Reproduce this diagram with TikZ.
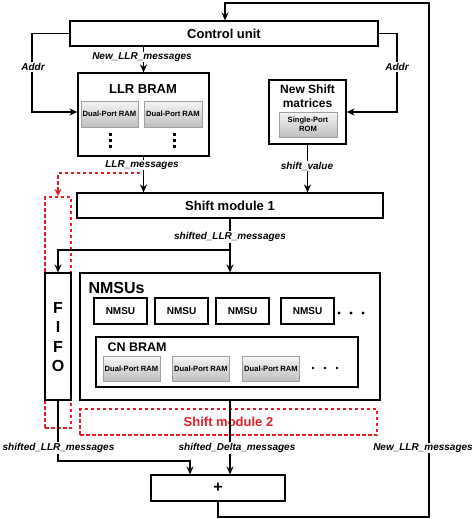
\documentclass[tikz,border=0pt]{standalone}
\usepackage{fontspec}
\setmainfont{Liberation Sans}
\usetikzlibrary{arrows.meta}
\definecolor{redd}{RGB}{230,30,40}
\begin{document}
\begin{tikzpicture}[x=1pt,y=-1pt,
  box/.style={draw=black,line width=1.1pt,fill=white,inner sep=0pt,font=\bfseries},
  gbox/.style={draw=gray!75,line width=0.8pt,top color=gray!8,bottom color=gray!50,inner sep=0pt,font=\bfseries\fontsize{7.6}{8.5}\selectfont,align=center},
  nbox/.style={box,minimum width=53pt,minimum height=26pt,font=\bfseries\fontsize{10}{12}\selectfont},
  lab/.style={font=\bfseries\itshape\fontsize{10}{12}\selectfont,fill=white,inner sep=1pt},
  conn/.style={line width=1.4pt,draw=black},
  arr/.style={conn,-{Stealth[length=8pt,width=7pt]}},
  reddash/.style={draw=redd,line width=1.2pt,dash pattern=on 3.5pt off 2.5pt},
  dot/.style={circle,fill=black,inner sep=0pt,minimum size=3pt}
]
\useasboundingbox (0,0) rectangle (474,519);

% boxes
\node[box,minimum width=308pt,minimum height=25pt,font=\bfseries\fontsize{13}{15}\selectfont] (cu) at (224,33.5) {Control unit};
\node[box,minimum width=131pt,minimum height=83pt] (llr) at (143.5,114.5) {};
\node[font=\bfseries\fontsize{13}{15}\selectfont] (llrt) at (143,89) {LLR BRAM};
\node[gbox,minimum width=57pt,minimum height=26pt] (dp1) at (109.5,114) {Dual-Port RAM};
\node[gbox,minimum width=58pt,minimum height=26pt] (dp2) at (173,114) {Dual-Port RAM};
\foreach \yy [count=\i] in {134,140,146}{
  \node[dot,rectangle,minimum size=3pt] (va\i) at (110,\yy) {};
  \node[dot,rectangle,minimum size=3pt] (vb\i) at (174,\yy) {};
}
\node[box,minimum width=77pt,minimum height=64pt] (nsm) at (307.5,112) {};
\node[font=\bfseries\fontsize{12}{14}\selectfont,align=center] (nsmt) at (307.5,96) {New Shift\\matrices};
\node[gbox,minimum width=58pt,minimum height=25pt] (rom) at (308,124.5) {Single-Port\\ROM};

\node[box,minimum width=306pt,minimum height=25pt,font=\bfseries\fontsize{13}{15}\selectfont] (sm1) at (230,205.5) {Shift module 1};

% red dashed FIFO outline (behind FIFO)
\node[reddash,minimum width=26pt,minimum height=231pt,inner sep=0pt] (rfifo) at (58,312.5) {};
\node[box,minimum width=26pt,minimum height=127pt] (fifo) at (58,336.5) {};
\foreach \ch/\yy [count=\i] in {F/308,I/327,F/347,O/366}{
  \node[font=\bfseries\fontsize{16}{18}\selectfont] (ff\i) at (58,\yy) {\ch};
}

\node[box,minimum width=300pt,minimum height=127pt] (nmsus) at (230,336.5) {};
\node[font=\bfseries\fontsize{16}{18}\selectfont,anchor=west] (nmsust) at (85,287.5) {NMSUs};
\node[nbox] (n1) at (120.5,311) {NMSU};
\node[nbox] (n2) at (181.5,311) {NMSU};
\node[nbox] (n3) at (242.5,311) {NMSU};
\node[nbox] (n4) at (307.5,311) {NMSU};
\foreach \xx [count=\i] in {339,351,363}{ \node[dot,minimum size=3.2pt] (hd\i) at (\xx,313) {}; }

\node[box,minimum width=262pt,minimum height=50pt] (cnb) at (227,362) {};
\node[font=\bfseries\fontsize{12.5}{14}\selectfont,anchor=west] (cnbt) at (104,347) {CN BRAM};
\node[gbox,minimum width=57pt,minimum height=25pt] (dp3) at (131.5,368.5) {Dual-Port RAM};
\node[gbox,minimum width=57pt,minimum height=25pt] (dp4) at (201,368.5) {Dual-Port RAM};
\node[gbox,minimum width=57pt,minimum height=25pt] (dp5) at (271,368.5) {Dual-Port RAM};
\foreach \xx [count=\i] in {313,325,337}{ \node[dot,minimum size=2.8pt] (cd\i) at (\xx,368) {}; }

\node[reddash,minimum width=297pt,minimum height=26pt,inner sep=0pt] (sm2) at (228.5,422) {};
\node[font=\bfseries\fontsize{13}{15}\selectfont,text=redd] (sm2t) at (228.5,422) {Shift module 2};

\node[box,minimum width=134pt,minimum height=26pt,font=\bfseries\fontsize{16}{18}\selectfont] (plus) at (218,488) {+};

% coordinates
\coordinate (al1) at (32,33.5);
\coordinate (al2) at (32,112);
\coordinate (ar1) at (397,33.5);
\coordinate (ar2) at (397,112);
\coordinate (br) at (230,250);
\coordinate (fb1) at (429,517);
\coordinate (fb2) at (429,3);
\coordinate (fb3) at (225,3);
\coordinate (fl) at (58,461);
\coordinate (fp) at (190,461);
\coordinate (rs) at (140,173);
\coordinate (rc) at (58,173);
\coordinate (re) at (58,196);

% connectors
\draw[arr] (cu.west) -- (al1) -- (al2) -- (al2 -| llr.west);
\draw[arr] (cu.east) -- (ar1) -- (ar2) -- (ar2 -| nsm.east);
\draw[arr] (llr.north |- cu.south) -- (llr.north);
\draw[arr] (llr.south) -- (llr.south |- sm1.north);
\draw[arr] (nsm.south) -- (nsm.south |- sm1.north);
\draw[conn] (sm1.south) -- (br);
\draw[arr] (br) -- (nmsus.north);
\draw[arr] (br) -| (fifo.north);
\draw[arr] (nmsus.south) -- (nmsus.south |- plus.north);
\draw[arr] (fifo.south) -- (fl) -- (fp) -- (fp |- plus.north);
\draw[arr] (plus.south) |- (fb1) -- (fb2) -- (fb3) -- (fb3 |- cu.north);
\draw[reddash,-{Stealth[length=7pt,width=7pt]}] (rs) -- (rc) -- (re);

% labels
\node[lab] (la1) at (33,67) {Addr};
\node[lab] (la2) at (397,67) {Addr};
\node[lab] (l1) at (142,57) {New\_LLR\_messages};
\node[lab] (l2) at (142,165) {LLR\_messages};
\node[lab] (l3) at (307,166) {shift\_value};
\node[lab] (l4) at (230,237) {shifted\_LLR\_messages};
\node[lab] (l5) at (58.5,448) {shifted\_LLR\_messages};
\node[lab] (l6) at (237,448) {shifted\_Delta\_messages};
\node[lab] (l7) at (423,448) {New\_LLR\_messages};
\end{tikzpicture}
\end{document}
